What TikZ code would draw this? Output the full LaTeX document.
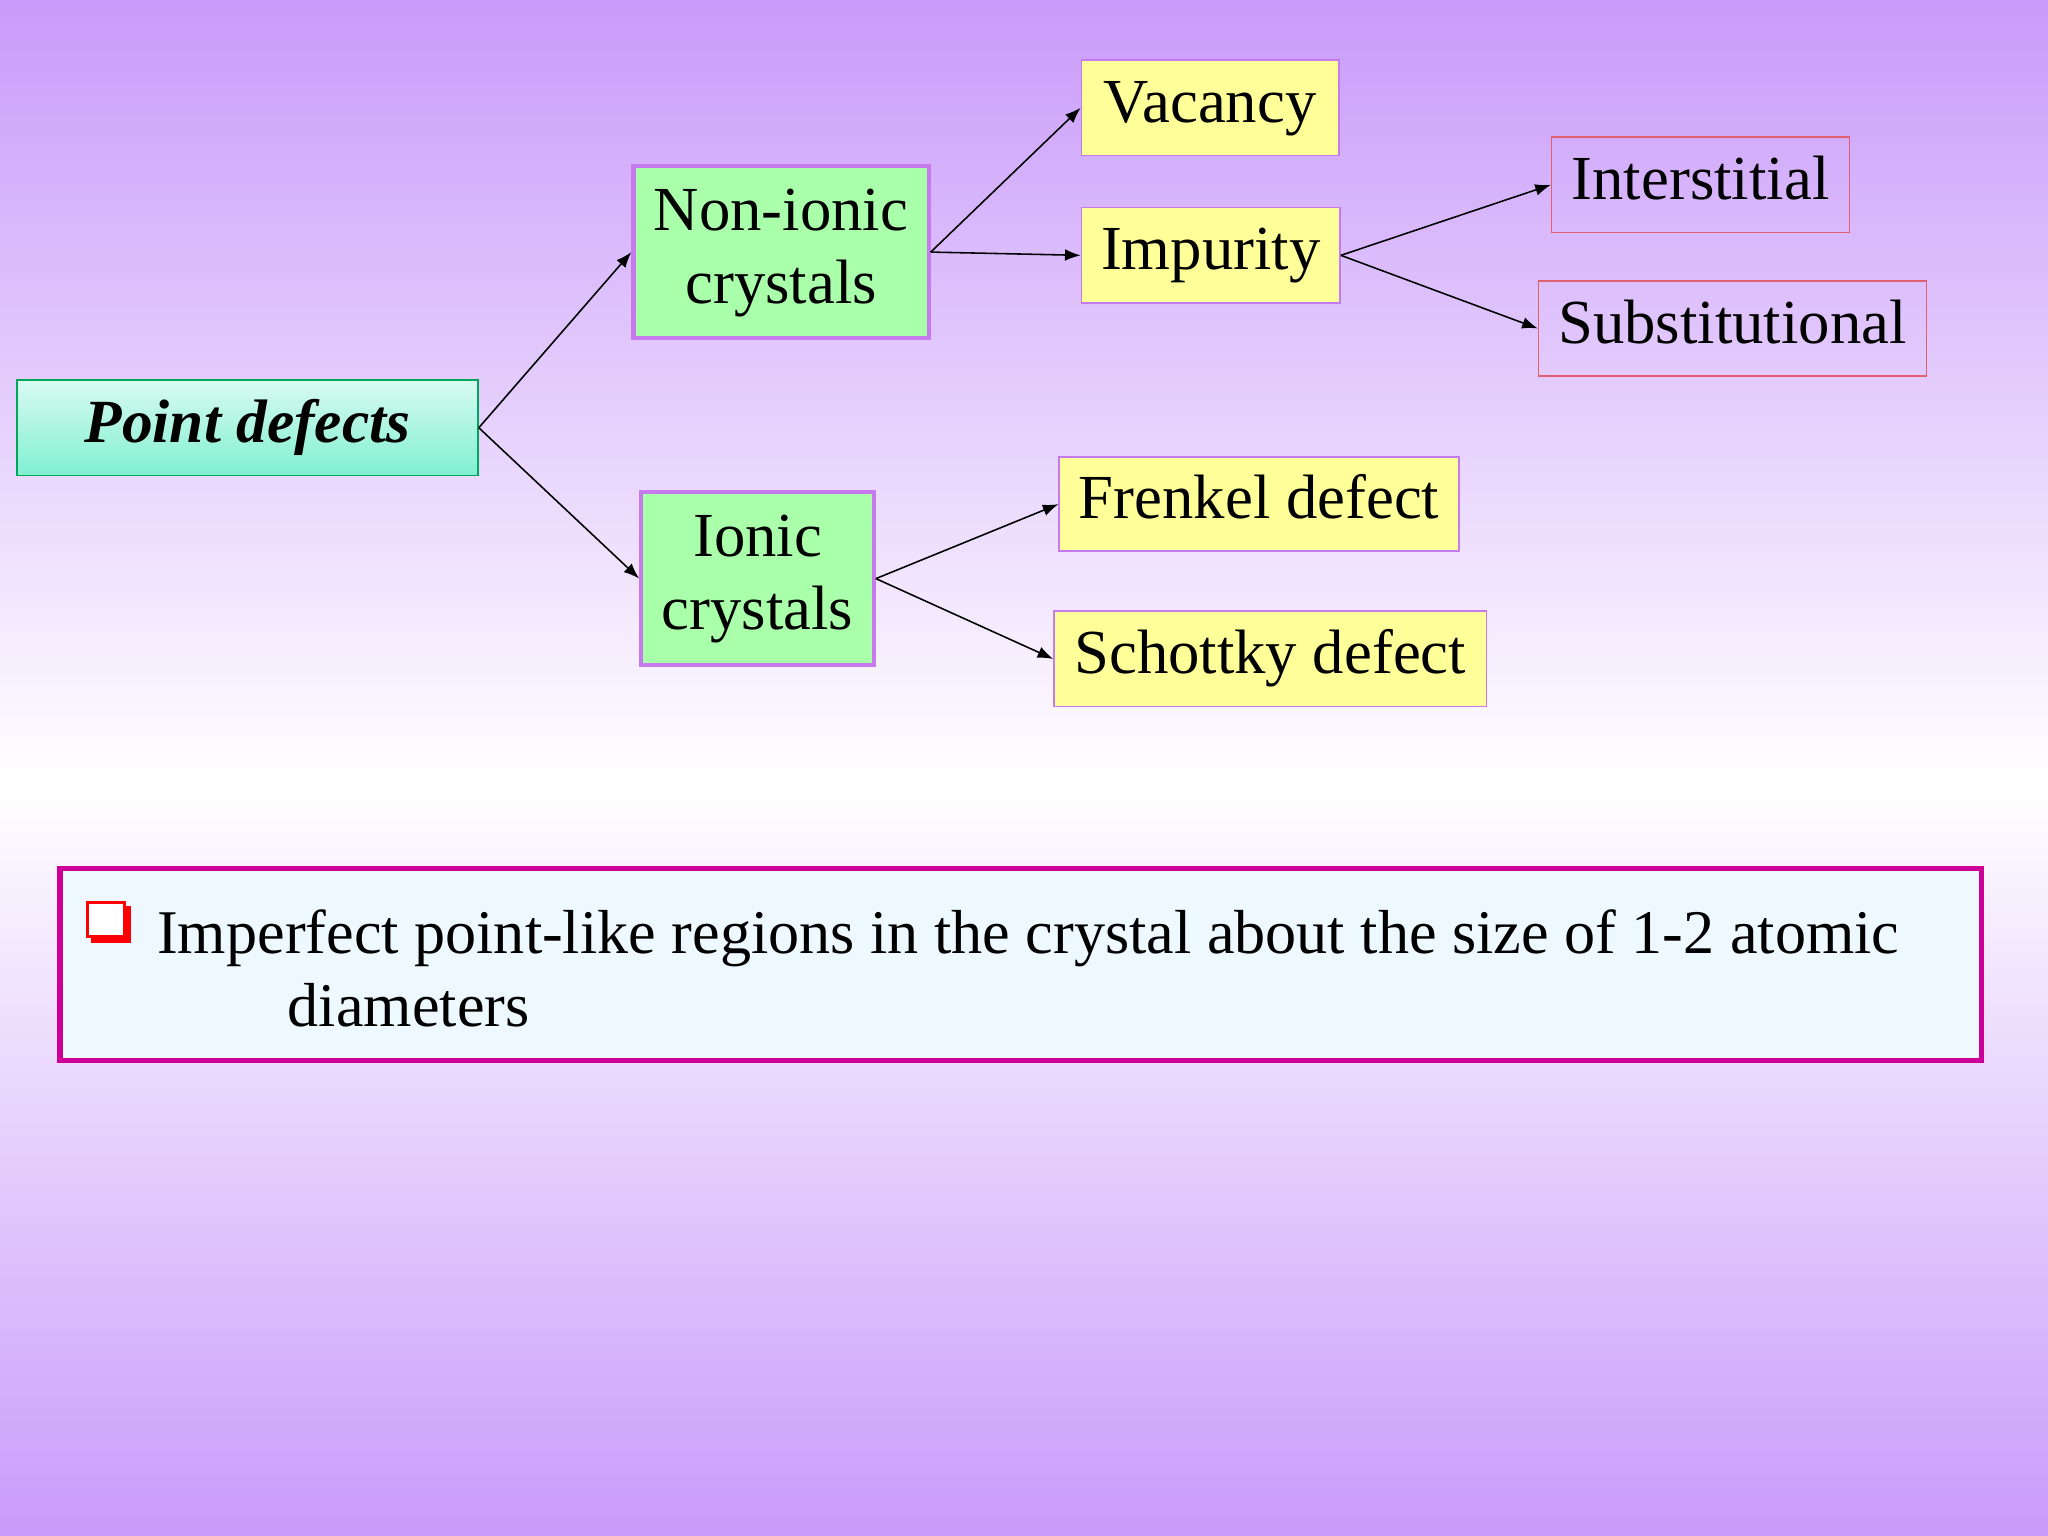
\documentclass[tikz,border=0pt]{standalone}
\usepackage{fontspec}
\setmainfont{Liberation Serif}
\usetikzlibrary{arrows.meta,shadings}
\definecolor{bgtop}{HTML}{C99BFA}
\definecolor{bgmid}{HTML}{FFFFFF}
\definecolor{green1}{HTML}{AAFFAA}
\definecolor{violet1}{HTML}{C77AEE}
\definecolor{yell}{HTML}{FFFF99}
\definecolor{redb}{HTML}{E06070}
\definecolor{mag}{HTML}{CC0099}
\definecolor{aqua}{HTML}{80F0D0}
\newcommand{\lowtext}[2]{\raisebox{#1}{\begin{tabular}{@{}c@{}}#2\end{tabular}}}
\tikzset{
 x=0.5pt,y=-0.5pt,
 box/.style={draw, inner sep=0pt, font=\fontsize{24}{28}\selectfont, align=center},
 greenbox/.style={box, fill=green1, draw=violet1, line width=1.6pt},
 yelbox/.style={box, fill=yell, draw=violet1, line width=0.6pt},
 redbox/.style={box, draw=redb, line width=0.6pt},
 arr/.style={-{Latex[length=6pt,width=4.5pt]}, line width=0.6pt},
}
\begin{document}
\begin{tikzpicture}
\useasboundingbox (0,0) rectangle (1568,1176);
\shade[top color=bgtop, bottom color=bgmid] (0,0) rectangle (1568,600);
\shade[top color=bgmid, bottom color=bgtop] (0,600) rectangle (1568,1176);
% boxes
\node[box, draw=teal!70!green, line width=0.6pt, top color=white!70!aqua, bottom color=aqua, minimum width=176.5pt, minimum height=36.5pt, font=\fontsize{23.5}{28}\selectfont\bfseries\itshape] (pd) at (189.5,327.5) {\lowtext{-2pt}{Point defects}};
\node[greenbox, minimum width=113pt, minimum height=66pt] (ni) at (598,193) {\lowtext{-5pt}{Non-ionic\\crystals}};
\node[greenbox, minimum width=89pt, minimum height=66pt] (io) at (580,443) {\lowtext{-5pt}{Ionic\\crystals}};
\node[yelbox, minimum width=98.5pt, minimum height=36.5pt] (va) at (926.5,82.5) {\lowtext{-2.5pt}{Vacancy}};
\node[yelbox, minimum width=99pt, minimum height=36.5pt] (im) at (927,195.5) {\lowtext{-2.5pt}{Impurity}};
\node[redbox, minimum width=114pt, minimum height=36.5pt] (in) at (1302,141.5) {\lowtext{-2.5pt}{Interstitial}};
\node[redbox, minimum width=148.5pt, minimum height=36.5pt] (su) at (1326.5,251.5) {\lowtext{-2.5pt}{Substitutional}};
\node[yelbox, minimum width=153pt, minimum height=36pt] (fr) at (964,386) {\lowtext{-2.5pt}{Frenkel defect}};
\node[yelbox, minimum width=165.5pt, minimum height=36.5pt] (sc) at (972.5,504.5) {\lowtext{-2.5pt}{Schottky defect}};
% arrows
\draw[arr] (pd.east) -- (ni.west);
\draw[arr] (pd.east) -- (io.west);
\draw[arr] (ni.east) -- (va.west);
\draw[arr] (ni.east) -- (im.west);
\draw[arr] (im.east) -- (in.west);
\draw[arr] (im.east) -- (su.west);
\draw[arr] (io.east) -- (fr.west);
\draw[arr] (io.east) -- (sc.west);
% bottom box
\node[draw=mag, line width=2pt, fill=cyan!7, minimum width=735.5pt, minimum height=73.5pt, inner sep=0pt] (bb) at (781.5,738.5) {};
\fill[red] (70,694) rectangle (100,722);
\fill[white] (67,691) rectangle (95,717);
\draw[red, line width=1.2pt] (67,691) rectangle (95,717);
\node[anchor=base west, inner sep=0pt, font=\fontsize{23.8}{28}\selectfont] (t1) at (120,730) {Imperfect point-like regions in the crystal about the size of 1-2 atomic};
\node[anchor=base west, inner sep=0pt, font=\fontsize{23.8}{28}\selectfont] (t2) at (220,786) {diameters};
\end{tikzpicture}
\end{document}
